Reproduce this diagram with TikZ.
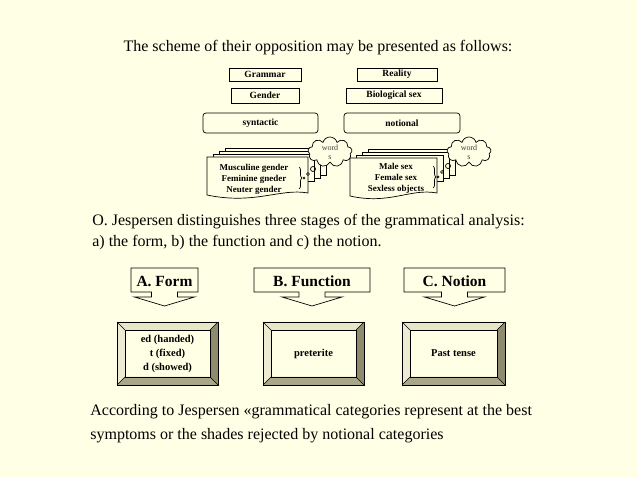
\documentclass[tikz,border=0pt]{standalone}
\usepackage{fontspec}
\setmainfont{Liberation Serif}
\usetikzlibrary{shapes.symbols,decorations.pathreplacing}
\definecolor{bg}{HTML}{FFFFE6}
\definecolor{bev}{HTML}{8E8B6E}
\definecolor{bevl}{HTML}{E8E6C8}
\begin{document}
\begin{tikzpicture}[x=1pt,y=-1pt,line width=0.7pt,
 lbl/.style={draw,fill=bg,font=\bfseries\fontsize{9.5}{11}\selectfont,inner sep=0pt},
 big/.style={font=\fontsize{16}{18}\selectfont,anchor=west,inner sep=0pt},
 small/.style={font=\bfseries\fontsize{9}{11}\selectfont,align=center,inner sep=0pt},
 sheet/.style={draw,fill=bg},
 cl/.style={cloud,cloud puffs=9,draw,fill=bg,minimum width=44pt,minimum height=30pt,font=\fontsize{8}{9}\selectfont,text=gray!50!black,align=center,inner sep=0pt},
 call/.style={font=\bfseries\fontsize{15.5}{17}\selectfont,inner sep=0pt}]
\fill[bg] (0,0) rectangle (638,478);
\useasboundingbox (0,0) rectangle (638,478);
\node[font=\fontsize{16}{18}\selectfont] (title) at (318,48) {The scheme of their opposition may be presented as follows:};
\node[lbl,minimum width=72pt,minimum height=13pt] (gram) at (265,74.5) {Grammar};
\node[lbl,minimum width=80pt,minimum height=13pt] (real) at (397,74.5) {Reality};
\node[lbl,minimum width=68pt,minimum height=15pt] (gend) at (265,95.5) {Gender};
\node[lbl,minimum width=96pt,minimum height=15pt] (bio) at (394,95.5) {Biological sex};
\node[lbl,rounded corners=3pt,minimum width=115pt,minimum height=20pt] (syn) at (260.5,123) {syntactic};
\node[lbl,rounded corners=3pt,minimum width=116pt,minimum height=20pt] (not) at (402,123) {notional};
% left stack
\foreach \dx/\dy in {18/-9,12/-6,6/-3}{
 \draw[sheet] (207+\dx,157+\dy) rectangle (308+\dx,184+\dy);}
\draw[sheet] (207,157) -- (308,157) -- (308,193) .. controls (280,188) and (255,205) .. (207,195) -- cycle;
\node[cl] (c1) at (330,152) {word\\s};
\node[small] (t1) at (254,179) {Musculine gender\\Feminine gneder\\Neuter gender};
\draw[decorate,decoration={brace,amplitude=3pt}] (299,167) -- (299,189);
\node[draw,circle,inner sep=0pt,minimum size=2pt] (d1) at (304,178) {};
\node[draw,circle,inner sep=0pt,minimum size=3pt] (d2) at (308,174) {};
\node[draw,circle,inner sep=0pt,minimum size=5pt] (d3) at (313,169) {};
% right stack
\foreach \dx/\dy in {18/-9,12/-6,6/-3}{
 \draw[sheet] (350+\dx,158+\dy) rectangle (437+\dx,184+\dy);}
\draw[sheet] (350,158) -- (437,158) -- (437,193) .. controls (410,188) and (390,205) .. (350,196) -- cycle;
\node[cl] (c2) at (469,152) {word\\s};
\node[small] (t2) at (396,178) {Male sex\\Female sex\\Sexless objects};
\draw[decorate,decoration={brace,amplitude=3pt}] (433,166) -- (433,188);
\node[draw,circle,inner sep=0pt,minimum size=2pt] (e1) at (438,177) {};
\node[draw,circle,inner sep=0pt,minimum size=3pt] (e2) at (442,172) {};
\node[draw,circle,inner sep=0pt,minimum size=5pt] (e3) at (448,166) {};
% paragraph
\node[big] (p1) at (92,222) {O. Jespersen distinguishes three stages of the grammatical analysis:};
\node[big] (p2) at (92,243) {a) the form, b) the function and c) the notion.};
% callouts
\foreach \n/\xa/\xb/\t in {a/131/198/A. Form,b/254/370/B. Function,c/404/505/C. Notion}{
 \pgfmathsetmacro\xm{(\xa+\xb)/2}
 \draw[fill=bg] (\xa,268) -- (\xb,268) -- (\xb,292) -- (\xm+13,292) -- (\xm+13,297) -- (\xm+30,297) -- (\xm,306) -- (\xm-30,297) -- (\xm-13,297) -- (\xm-13,292) -- (\xa,292) -- cycle;
 \node[call] (\n) at (\xm,281) {\t};
}
% bevel boxes
\foreach \n/\xa/\xb/\t in {fa/117/218/{ed (handed)\\t (fixed)\\d (showed)},fb/263/364/preterite,fc/402/505/Past tense}{
 \def\ya{322}\def\yb{385}\def\w{8}
 \fill[bevl] (\xa,\ya) -- (\xb,\ya) -- (\xb-\w,\ya+\w) -- (\xa+\w,\ya+\w) -- cycle;
 \fill[bevl!80!white] (\xa,\ya) -- (\xa+\w,\ya+\w) -- (\xa+\w,\yb-\w) -- (\xa,\yb) -- cycle;
 \fill[bev] (\xb,\ya) -- (\xb,\yb) -- (\xb-\w,\yb-\w) -- (\xb-\w,\ya+\w) -- cycle;
 \fill[bev!70!bevl] (\xa,\yb) -- (\xb,\yb) -- (\xb-\w,\yb-\w) -- (\xa+\w,\yb-\w) -- cycle;
 \draw (\xa,\ya) rectangle (\xb,\yb);
 \draw (\xa+\w,\ya+\w) rectangle (\xb-\w,\yb-\w);
 \draw (\xa,\ya) -- (\xa+\w,\ya+\w) (\xb,\ya) -- (\xb-\w,\ya+\w) (\xa,\yb) -- (\xa+\w,\yb-\w) (\xb,\yb) -- (\xb-\w,\yb-\w);
 \node[small,font=\bfseries\fontsize{10.5}{14}\selectfont] (\n) at ({(\xa+\xb)/2},353.5) {\t};
}
\node[big] (q1) at (90,412) {According to Jespersen «grammatical categories represent at the best};
\node[big] (q2) at (90,436) {symptoms or the shades rejected by notional categories};
\end{tikzpicture}
\end{document}
